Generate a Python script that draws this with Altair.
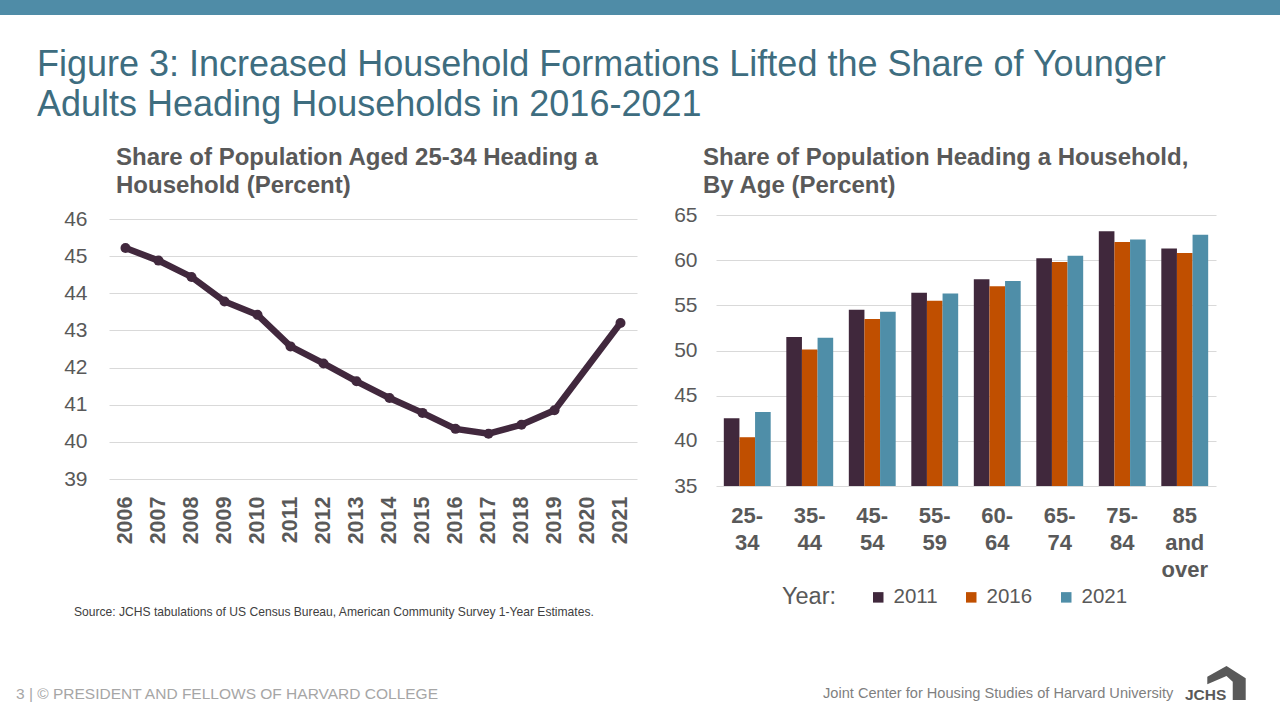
import altair as alt
import pandas as pd

FONT = "Liberation Sans"

# ---------------- data ----------------
year_labels = ["2006", "2007", "2008", "2009", "2010", "2011", "2012", "2013",
               "2014", "2015", "2016", "2017", "2018", "2019", "2020", "2021"]
share_years = ["2006", "2007", "2008", "2009", "2010", "2011", "2012", "2013",
               "2014", "2015", "2016", "2017", "2018", "2019", "2021"]
share_values = [45.22, 44.88, 44.44, 43.78, 43.42, 42.57, 42.11, 41.63,
                41.18, 40.78, 40.35, 40.22, 40.46, 40.85, 43.20]
left_ticks = [39, 40, 41, 42, 43, 44, 45, 46]

age_groups = ["25-34", "35-44", "45-54", "55-59", "60-64", "65-74", "75-84", "85 and over"]
bar_years = ["2011", "2016", "2021"]
values_2011 = [42.5, 51.5, 54.5, 56.4, 57.9, 60.2, 63.2, 61.3]
values_2016 = [40.4, 50.1, 53.5, 55.5, 57.1, 59.8, 62.0, 60.8]
values_2021 = [43.2, 51.4, 54.3, 56.3, 57.7, 60.5, 62.3, 62.8]
right_ticks = [35, 40, 45, 50, 55, 60, 65]

title_lines = ["Figure 3: Increased Household Formations Lifted the Share of Younger",
               "Adults Heading Households in 2016-2021"]
left_sub = ["Share of Population Aged 25-34 Heading a", "Household (Percent)"]
right_sub = ["Share of Population Heading a Household,", "By Age (Percent)"]
source_text = "Source: JCHS tabulations of US Census Bureau, American Community Survey 1-Year Estimates."
footer_left = "3 | \u00a9 PRESIDENT AND FELLOWS OF HARVARD COLLEGE"
footer_right = "Joint Center for Housing Studies of Harvard University"

# ---------------- styles ----------------
LINE_COLOR = "#41283D"
BAR_COLORS = ["#40283C", "#C04F00", "#4F8EA8"]
BAND_COLOR = "#4F8CA7"
TITLE_COLOR = "#3E6D7F"
TEXT_GRAY = "#595959"
GRID = "#D9D9D9"

line_df = pd.DataFrame({"year": share_years, "share": share_values})
rows = []
for i, g in enumerate(age_groups):
    for yr, vals in zip(bar_years, [values_2011, values_2016, values_2021]):
        rows.append({"age": g, "year": yr, "value": vals[i]})
bar_df = pd.DataFrame(rows)

one = alt.Data(values=[{"k": 1}])


def txt(text, x, y, size, color, weight="normal", align="left",
        baseline="alphabetic", line_height=None):
    kw = dict(text=text, fontSize=size, color=color, fontWeight=weight,
              align=align, baseline=baseline, font=FONT)
    if line_height is not None:
        kw["lineHeight"] = line_height
    return alt.Chart(one).mark_text(**kw).encode(x=alt.value(x), y=alt.value(y))


# ---------------- left chart ----------------
x_left = alt.X("year:O",
               scale=alt.Scale(type="point", domain=year_labels, padding=0.5),
               axis=alt.Axis(title=None, labelAngle=270, labelFontWeight="bold",
                             labelFontSize=21.5, labelColor=TEXT_GRAY, labelFont=FONT,
                             labelPadding=17, domain=False, ticks=False, tickSize=0,
                             grid=False))
y_left = alt.Y("share:Q",
               scale=alt.Scale(domain=[39, 46.1077], nice=False, zero=False),
               axis=alt.Axis(title=None, values=left_ticks, labelFontSize=21,
                             labelColor=TEXT_GRAY, labelFont=FONT, labelPadding=22,
                             domain=False, ticks=False, tickSize=0,
                             gridColor=GRID, gridWidth=1))

line = alt.Chart(line_df).mark_line(color=LINE_COLOR, strokeWidth=6.5).encode(x=x_left, y=y_left)
pts = alt.Chart(line_df).mark_point(filled=True, size=100, color=LINE_COLOR, opacity=1).encode(
    x=x_left, y=y_left)

bg = alt.Chart(one).mark_rect(color="white", opacity=0).encode(
    x=alt.value(-109), x2=alt.value(1171), y=alt.value(-215), y2=alt.value(505))
band = alt.Chart(one).mark_rect(color=BAND_COLOR).encode(
    x=alt.value(-109), x2=alt.value(1171), y=alt.value(-215), y2=alt.value(-200))

house = ("M0,-0.87 L0.985,-0.24 L0.985,0.87 L0.32,0.87 L0.32,-0.07 "
         "L0,-0.36 L-0.985,0.07 L-0.985,-0.32 Z")
logo = alt.Chart(one).mark_point(shape=house, size=1521, filled=True, color=TEXT_GRAY,
                                  opacity=1, strokeWidth=0).encode(
    x=alt.value(1117.5), y=alt.value(468))

left = alt.layer(
    bg, band,
    txt(title_lines, -72, -139, 36, TITLE_COLOR, line_height=40),
    txt(left_sub, 7, -50, 24, TEXT_GRAY, weight="bold", line_height=28),
    txt(source_text, -35, 397, 12.1, "#404040", baseline="middle"),
    txt(footer_left, -93, 479, 15.5, "#A6A6A6", baseline="middle"),
    txt(footer_right, 714, 479, 14.6, "#7F7F7F", baseline="middle"),
    txt("JCHS", 1076, 485, 15.5, TEXT_GRAY, weight="bold"),
    logo,
    line, pts,
).properties(width=528, height=264)

# ---------------- right chart ----------------
label_expr = ("datum.value == '85 and over' ? ['85', 'and', 'over'] : "
              "[slice(datum.value, 0, 3), slice(datum.value, 3)]")

bars = alt.Chart(bar_df).mark_bar().encode(
    x=alt.X("age:N", sort=age_groups,
            scale=alt.Scale(paddingInner=0.25, paddingOuter=0.125),
            axis=alt.Axis(title=None, labelExpr=label_expr, labelAngle=0,
                          labelFontWeight="bold", labelFontSize=22, labelColor=TEXT_GRAY,
                          labelFont=FONT, labelLineHeight=27, labelPadding=19,
                          domain=False, ticks=False, tickSize=0, grid=False)),
    xOffset=alt.XOffset("year:N", sort=bar_years,
                        scale=alt.Scale(paddingInner=0, paddingOuter=0)),
    y=alt.Y("value:Q", scale=alt.Scale(domain=[35, 65], nice=False, zero=False),
            axis=alt.Axis(title=None, values=right_ticks, labelFontSize=21,
                          labelColor=TEXT_GRAY, labelFont=FONT, labelPadding=19,
                          domain=False, ticks=False, tickSize=0,
                          gridColor=GRID, gridWidth=1)),
    y2=alt.datum(35),
    color=alt.Color("year:N", sort=bar_years,
                    scale=alt.Scale(domain=bar_years, range=BAR_COLORS),
                    legend=alt.Legend(title="Year:", orient="none", legendX=673, legendY=372,
                                      direction="horizontal", titleOrient="left",
                                      titleFontSize=23.5, titleFontWeight="normal",
                                      titleColor=TEXT_GRAY, titleFont=FONT, titlePadding=31,
                                      labelFontSize=20.5, labelColor=TEXT_GRAY, labelFont=FONT,
                                      labelOffset=5, symbolType="square", symbolSize=110,
                                      symbolStrokeWidth=0, columnPadding=23)),
)

right = alt.layer(
    bars,
    txt(right_sub, -13, -50, 24, TEXT_GRAY, weight="bold", line_height=28),
).properties(width=500, height=271)

chart = alt.hconcat(left, right, spacing=79, bounds="flush").properties(
    padding=0, background="white"
).configure(font=FONT).configure_view(stroke="transparent", strokeWidth=0)

chart.save("out.html", embed_options={"renderer": "svg", "actions": False})
